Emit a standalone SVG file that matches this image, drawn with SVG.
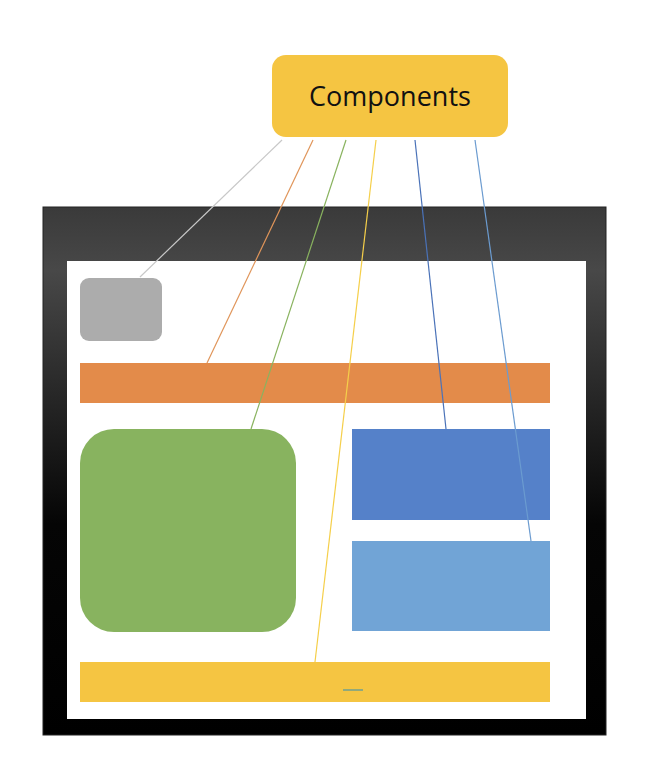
<svg xmlns="http://www.w3.org/2000/svg" width="672" height="780" viewBox="0 0 672 780">
<defs>
<linearGradient id="fg" x1="0" y1="0" x2="0" y2="1">
<stop offset="0" stop-color="#3a3a3a"/><stop offset="0.12" stop-color="#484848"/><stop offset="0.6" stop-color="#050505"/><stop offset="1" stop-color="#000"/>
</linearGradient>
</defs>
<style>
.c{fill:none;stroke-width:1.2}
</style>
<rect width="672" height="780" fill="#fff"/>
<g id="frame"><rect x="43" y="207" width="563" height="528" fill="url(#fg)" stroke="#222"/>
<rect x="67" y="261" width="519" height="458" fill="#fff"/></g>
<g id="logo"><rect x="80" y="278" width="82" height="63" rx="9" fill="#acacac"/></g>
<g id="nav"><rect x="80" y="363" width="470" height="40" fill="#e38b4a"/></g>
<g id="main"><rect x="80" y="429" width="216" height="203" rx="34" fill="#88b35f"/></g>
<g id="side1"><rect x="352" y="429" width="198" height="91" fill="#5581c9"/></g>
<g id="side2"><rect x="352" y="541" width="198" height="90" fill="#71a4d6"/></g>
<g id="footer"><rect x="80" y="662" width="470" height="40" fill="#f5c542"/>
<line x1="343" y1="690" x2="363" y2="690" stroke="#6f9f8f" stroke-width="1.5"/></g>
<g id="connectors">
<line class="c" x1="282" y1="140" x2="140" y2="277" stroke="#c8c8c8"/>
<line class="c" x1="313" y1="140" x2="207" y2="363" stroke="#e0955a"/>
<line class="c" x1="346" y1="140" x2="251" y2="429" stroke="#89b35f"/>
<line class="c" x1="376" y1="140" x2="315" y2="662" stroke="#f5cf4a"/>
<line class="c" x1="415" y1="140" x2="446" y2="429" stroke="#4a72b8"/>
<line class="c" x1="475" y1="140" x2="531" y2="541" stroke="#6b9bd0"/>
</g>
<g id="components"><rect x="272" y="55" width="236" height="82" rx="14" fill="#f5c542"/>
<text x="390" y="106" text-anchor="middle" font-family="Open Sans, sans-serif" font-size="27" fill="#111">Components</text></g>
</svg>
